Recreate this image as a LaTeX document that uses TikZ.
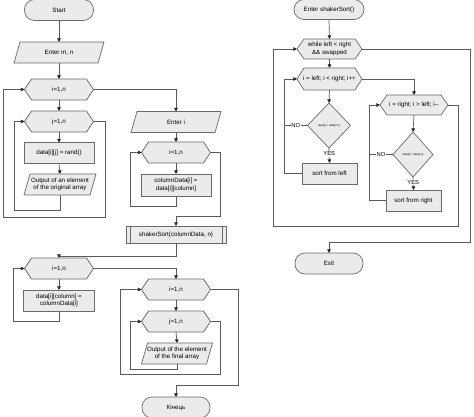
\documentclass[tikz,border=0pt]{standalone}
\usepackage{fontspec}
\setmainfont{Liberation Sans}
\usetikzlibrary{arrows.meta}
\definecolor{stk}{HTML}{6A6A6A}
\definecolor{fil}{HTML}{EBEBEB}
\definecolor{lin}{HTML}{5A5A5A}
\tikzset{
 shp/.style={draw=stk, fill=fil, line width=0.7pt},
 base/.style={inner sep=0pt, outer sep=0pt},
 txt/.style={font=\fontsize{6.2}{7.6}\selectfont, align=center, text=black},
 procbox/.style={base, shp, txt},
 term/.style={base, shp, txt, rounded corners=10pt},
 conn/.style={draw=lin, line width=0.7pt},
 arr/.style={conn, -{Triangle[length=3.6pt,width=3.6pt,color=black!85]}},
 lbl/.style={fill=white, inner sep=0.6pt, font=\fontsize{5.8}{7}\selectfont},
 tinytxt/.style={font=\fontsize{2.8}{3.2}\selectfont},
}
% name, position, width, height, text
\newcommand\HexNode[5]{%
 \node[base, minimum width=#3, minimum height=#4] (#1) at (#2) {};
 \filldraw[shp] (#1.west) -- ([xshift=7pt]#1.north west) -- ([xshift=-7pt]#1.north east) -- (#1.east) -- ([xshift=-7pt]#1.south east) -- ([xshift=7pt]#1.south west) -- cycle;
 \node[txt] at (#1) {#5};}
\newcommand\ParaNode[5]{%
 \node[base, minimum width=#3, minimum height=#4] (#1) at (#2) {};
 \filldraw[shp] (#1.south west) -- ([xshift=6pt]#1.north west) -- (#1.north east) -- ([xshift=-6pt]#1.south east) -- cycle;
 \node[txt] at (#1) {#5};}
\newcommand\DiaNode[5]{%
 \node[base, minimum width=#3, minimum height=#4] (#1) at (#2) {};
 \filldraw[shp] (#1.west) -- (#1.north) -- (#1.east) -- (#1.south) -- cycle;
 \node[tinytxt] at (#1) {#5};}
\begin{document}
\begin{tikzpicture}[x=1pt,y=-1pt]
\useasboundingbox (0,0) rectangle (474,417);

% ---------- main flowchart, left column ----------
\node[term, minimum width=69, minimum height=21] (start) at (59,10) {Start};
\ParaNode{enmn}{59,52.5}{90}{21}{Enter m, n}
\HexNode{hi1}{59,89.5}{69}{21}{i=1,n}
\HexNode{hj1}{59,121.5}{69}{21}{j=1,n}
\node[procbox, minimum width=70, minimum height=21] (rnd) at (59,153) {data[i][j] = rand()};
\ParaNode{out1}{60,184.5}{72}{21}{Output of an element\\of the original array}

% ---------- right column ----------
\ParaNode{enti}{176,122}{90}{21}{Enter i}
\HexNode{hi2}{176,152.5}{69}{21}{i=1,n}
\node[procbox, minimum width=70, minimum height=22] (colb) at (176,185) {columnData[i] =\\data[i][column]};
\node[procbox, minimum width=100, minimum height=17] (shk) at (176,234.5) {shakerSort(columnData, n)};
\draw[draw=stk, line width=0.7pt] ([xshift=4pt]shk.north west) -- ([xshift=4pt]shk.south west)
  ([xshift=-4pt]shk.north east) -- ([xshift=-4pt]shk.south east);

% ---------- lower part ----------
\HexNode{hi3}{59,268.5}{69}{21}{i=1,n}
\node[procbox, minimum width=71, minimum height=21] (back) at (59,300.5) {data[i][column] =\\columnData[i]};
\HexNode{hi4}{176,289.5}{69}{21}{i=1,n}
\HexNode{hj4}{176,321.5}{69}{21}{j=1,n}
\ParaNode{out2}{177,353.5}{71}{21}{Output of the element\\of the final array}
\node[term, minimum width=68, minimum height=21] (fin) at (176,407.5) {Кінець};

% ---------- connectors, main ----------
\draw[arr] (start.south) -- (enmn.north);
\draw[arr] (enmn.south) -- (hi1.north);
\draw[arr] (hi1.south) -- (hj1.north);
\draw[arr] (hj1.south) -- (rnd.north);
\draw[arr] (rnd.south) -- (out1.south |- out1.north);
\draw[arr] (out1.south) |- (14,210) |- (hj1.west);
\draw[arr] (hj1.east) -| (105,217) -| (3,89.5) -- (hi1.west);
\draw[arr] (hi1.east) -| (enti.north);
\draw[arr] (enti.south) -- (hi2.north);
\draw[arr] (hi2.south) -- (colb.north);
\draw[arr] (colb.south) |- (130,206) |- (hi2.west);
\draw[arr] (hi2.east) -| (220,216) -| (shk.north);
\draw[arr] (shk.south) -- ++(0,13.5) -| (hi3.north);
\draw[arr] (hi3.south) -- (back.north);
\draw[arr] (back.south) |- (13,321) |- (hi3.west);
\draw[arr] (hi3.east) -| (hi4.north);
\draw[arr] (hi4.south) -- (hj4.north);
\draw[arr] (hj4.south) -- (out2.south |- out2.north);
\draw[arr] (out2.south) |- (130,369) |- (hj4.west);
\draw[arr] (hj4.east) -| (220,374) -| (120,289.5) -- (hi4.west);
\draw[arr] (hi4.east) -| (238,385) -| (fin.north);

% ---------- shakerSort flowchart ----------
\node[term, minimum width=70, minimum height=20] (ss) at (329,9.5) {Enter shakerSort()};
\HexNode{wh}{329.5,49}{65}{20}{while left < right\\\&\& swapped}
\HexNode{fl}{329.5,79}{65}{22}{i = left; i < right; i++}
\DiaNode{dl}{329,125.5}{43}{45}{data[i] > data[i+1]}
\node[procbox, minimum width=55, minimum height=21] (sl) at (329.5,173.5) {sort from left};
\HexNode{fr}{414,105}{68}{20}{i = right; i > left; i-{}-}
\DiaNode{dr}{413,154.5}{40}{45}{data[i] < data[i-1]}
\node[procbox, minimum width=55, minimum height=21] (sr) at (413.5,200.5) {sort from right};
\node[term, minimum width=68, minimum height=21] (ex) at (329,263.5) {Exit};
\coordinate (jl) at (284,125.5);
\coordinate (jr) at (369,154.5);

\draw[arr] (ss.south) -- (wh.north);
\draw[arr] (wh.south) -- (fl.north);
\draw[arr] (fl.south) -- (dl.north);
\draw[arr] (dl.south) -- node[lbl, pos=0.4] {YES} (sl.north);
\draw[conn] (dl.west) -- node[lbl] {NO} (jl);
\draw[arr] (sl.west) -| (284,79) -- (fl.west);
\draw[arr] (fl.east) -| (fr.north);
\draw[arr] (fr.south) -- (dr.north);
\draw[arr] (dr.south) -- node[lbl, pos=0.4] {YES} (sr.north);
\draw[conn] (dr.west) -- node[lbl] {NO} (jr);
\draw[arr] (sr.west) -| (369,105) -- (fr.west);
\draw[arr] (fr.east) -| (458,226) -| (273,49) -- (wh.west);
\draw[arr] (wh.east) -| (470,242) -| (ex.north);
\end{tikzpicture}
\end{document}
